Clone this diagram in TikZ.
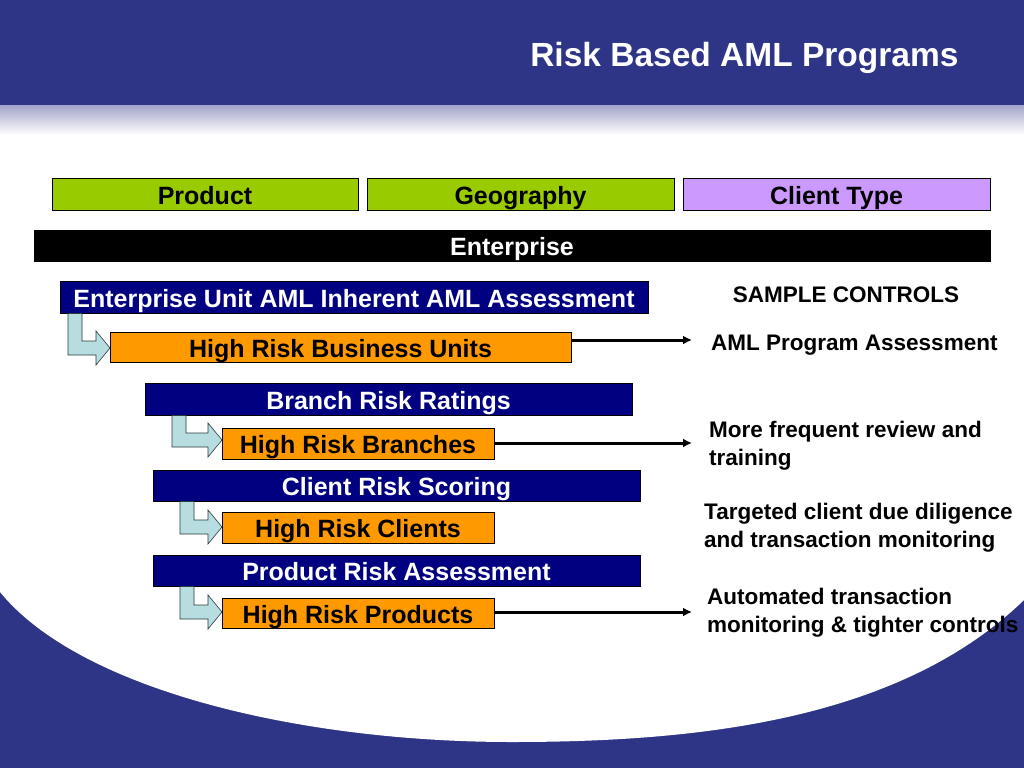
\documentclass[tikz,border=0pt]{standalone}
\usepackage{fontspec}
\setmainfont{Liberation Sans}
\usetikzlibrary{arrows.meta}
\begin{document}
\begin{tikzpicture}[x=1pt,y=-1pt,
  box/.style={draw=black,line width=0.6pt,inner sep=0pt,text height=25pt,text depth=5pt,font=\fontsize{25}{28}\bfseries\selectfont},
  note/.style={anchor=west,align=left,inner sep=0pt,font=\fontsize{22.5}{28}\bfseries\selectfont},
  bent/.style={fill={rgb,255:red,183;green,221;blue,224},draw={rgb,255:red,40;green,60;blue,60},line width=0.6pt},
  conn/.style={-{Latex[length=9pt,width=9pt]},line width=3pt}]
\definecolor{bg}{RGB}{46,53,134}
\definecolor{navy}{RGB}{0,0,128}
\definecolor{grn}{RGB}{153,204,0}
\definecolor{lil}{RGB}{204,153,255}
\definecolor{org}{RGB}{255,153,0}
\useasboundingbox (0,0) rectangle (1024,768);
\fill[bg] (0,0) rectangle (1024,768);
\fill[white] (0,112) -- (1024,112) -- (1024,600) .. controls (900,720) and (700,742) .. (512,742) .. controls (300,742) and (80,690) .. (0,592) -- cycle;
\shade[top color=bg!45,bottom color=white] (0,105) rectangle (1024,135);
\fill[bg] (0,0) rectangle (1024,105);
\node[anchor=east,text=white,font=\fontsize{33.5}{38}\bfseries\selectfont] (title) at (962,58) {Risk Based AML Programs};
% top row
\node[box,fill=grn,minimum width=306pt,minimum height=32pt] (prod) at (205,194) {Product};
\node[box,fill=grn,minimum width=307pt,minimum height=32pt] (geo) at (520.5,194) {Geography};
\node[box,fill=lil,minimum width=307pt,minimum height=32pt] (ct) at (836.5,194) {Client Type};
\node[box,fill=black,text=white,minimum width=956pt,minimum height=31pt] (ent) at (512,245.5) {Enterprise};
% left column
\node[box,fill=navy,text=white,minimum width=588pt,minimum height=32pt] (eu) at (354,297) {Enterprise Unit AML Inherent AML Assessment};
\node[box,fill=org,minimum width=461pt,minimum height=30pt] (hbu) at (340.5,347) {High Risk Business Units};
\node[box,fill=navy,text=white,minimum width=487pt,minimum height=32pt] (brr) at (388.5,399) {Branch Risk Ratings};
\node[box,fill=org,minimum width=272pt,minimum height=31pt] (hb) at (358,443.5) {High Risk Branches};
\node[box,fill=navy,text=white,minimum width=487pt,minimum height=31pt] (crs) at (396.5,485.5) {Client Risk Scoring};
\node[box,fill=org,minimum width=272pt,minimum height=31pt] (hc) at (358,527.5) {High Risk Clients};
\node[box,fill=navy,text=white,minimum width=487pt,minimum height=31pt] (pra) at (396.5,570.5) {Product Risk Assessment};
\node[box,fill=org,minimum width=272pt,minimum height=30pt] (hp) at (358,613) {High Risk Products};
% bent arrows
\newcommand{\bentarr}[4]{% x0, ytop, ymid, xtip
  \draw[bent] (#1,#2) -- (#1+14,#2) -- (#1+14,#3-7) -- (#4-14,#3-7) -- (#4-14,#3-17) -- (#4,#3) -- (#4-14,#3+17) -- (#4-14,#3+7) -- (#1,#3+7) -- cycle;}
\bentarr{68}{313.5}{348}{110}
\bentarr{172}{415.5}{440}{222}
\bentarr{180}{501.5}{527}{222}
\bentarr{180}{586.5}{612}{222}
% notes
\node[note,anchor=center] (sc) at (846,295) {SAMPLE CONTROLS};
\node[note] (n1) at (711,345) {AML Program Assessment};
\node[note] (n2) at (709,446) {More frequent review and\\training};
\node[note] (n3) at (704,527.5) {Targeted client due diligence\\and transaction monitoring};
\node[note] (n4) at (707,612.5) {Automated transaction\\monitoring \& tighter controls};
\coordinate (e1) at (692,340);
\coordinate (e2) at (692,443);
\coordinate (e4) at (692,612);
\draw[conn] (hbu.east |- e1) -- (e1);
\draw[conn] (hb.east |- e2) -- (e2);
\draw[conn] (hp.east |- e4) -- (e4);
\end{tikzpicture}
\end{document}
